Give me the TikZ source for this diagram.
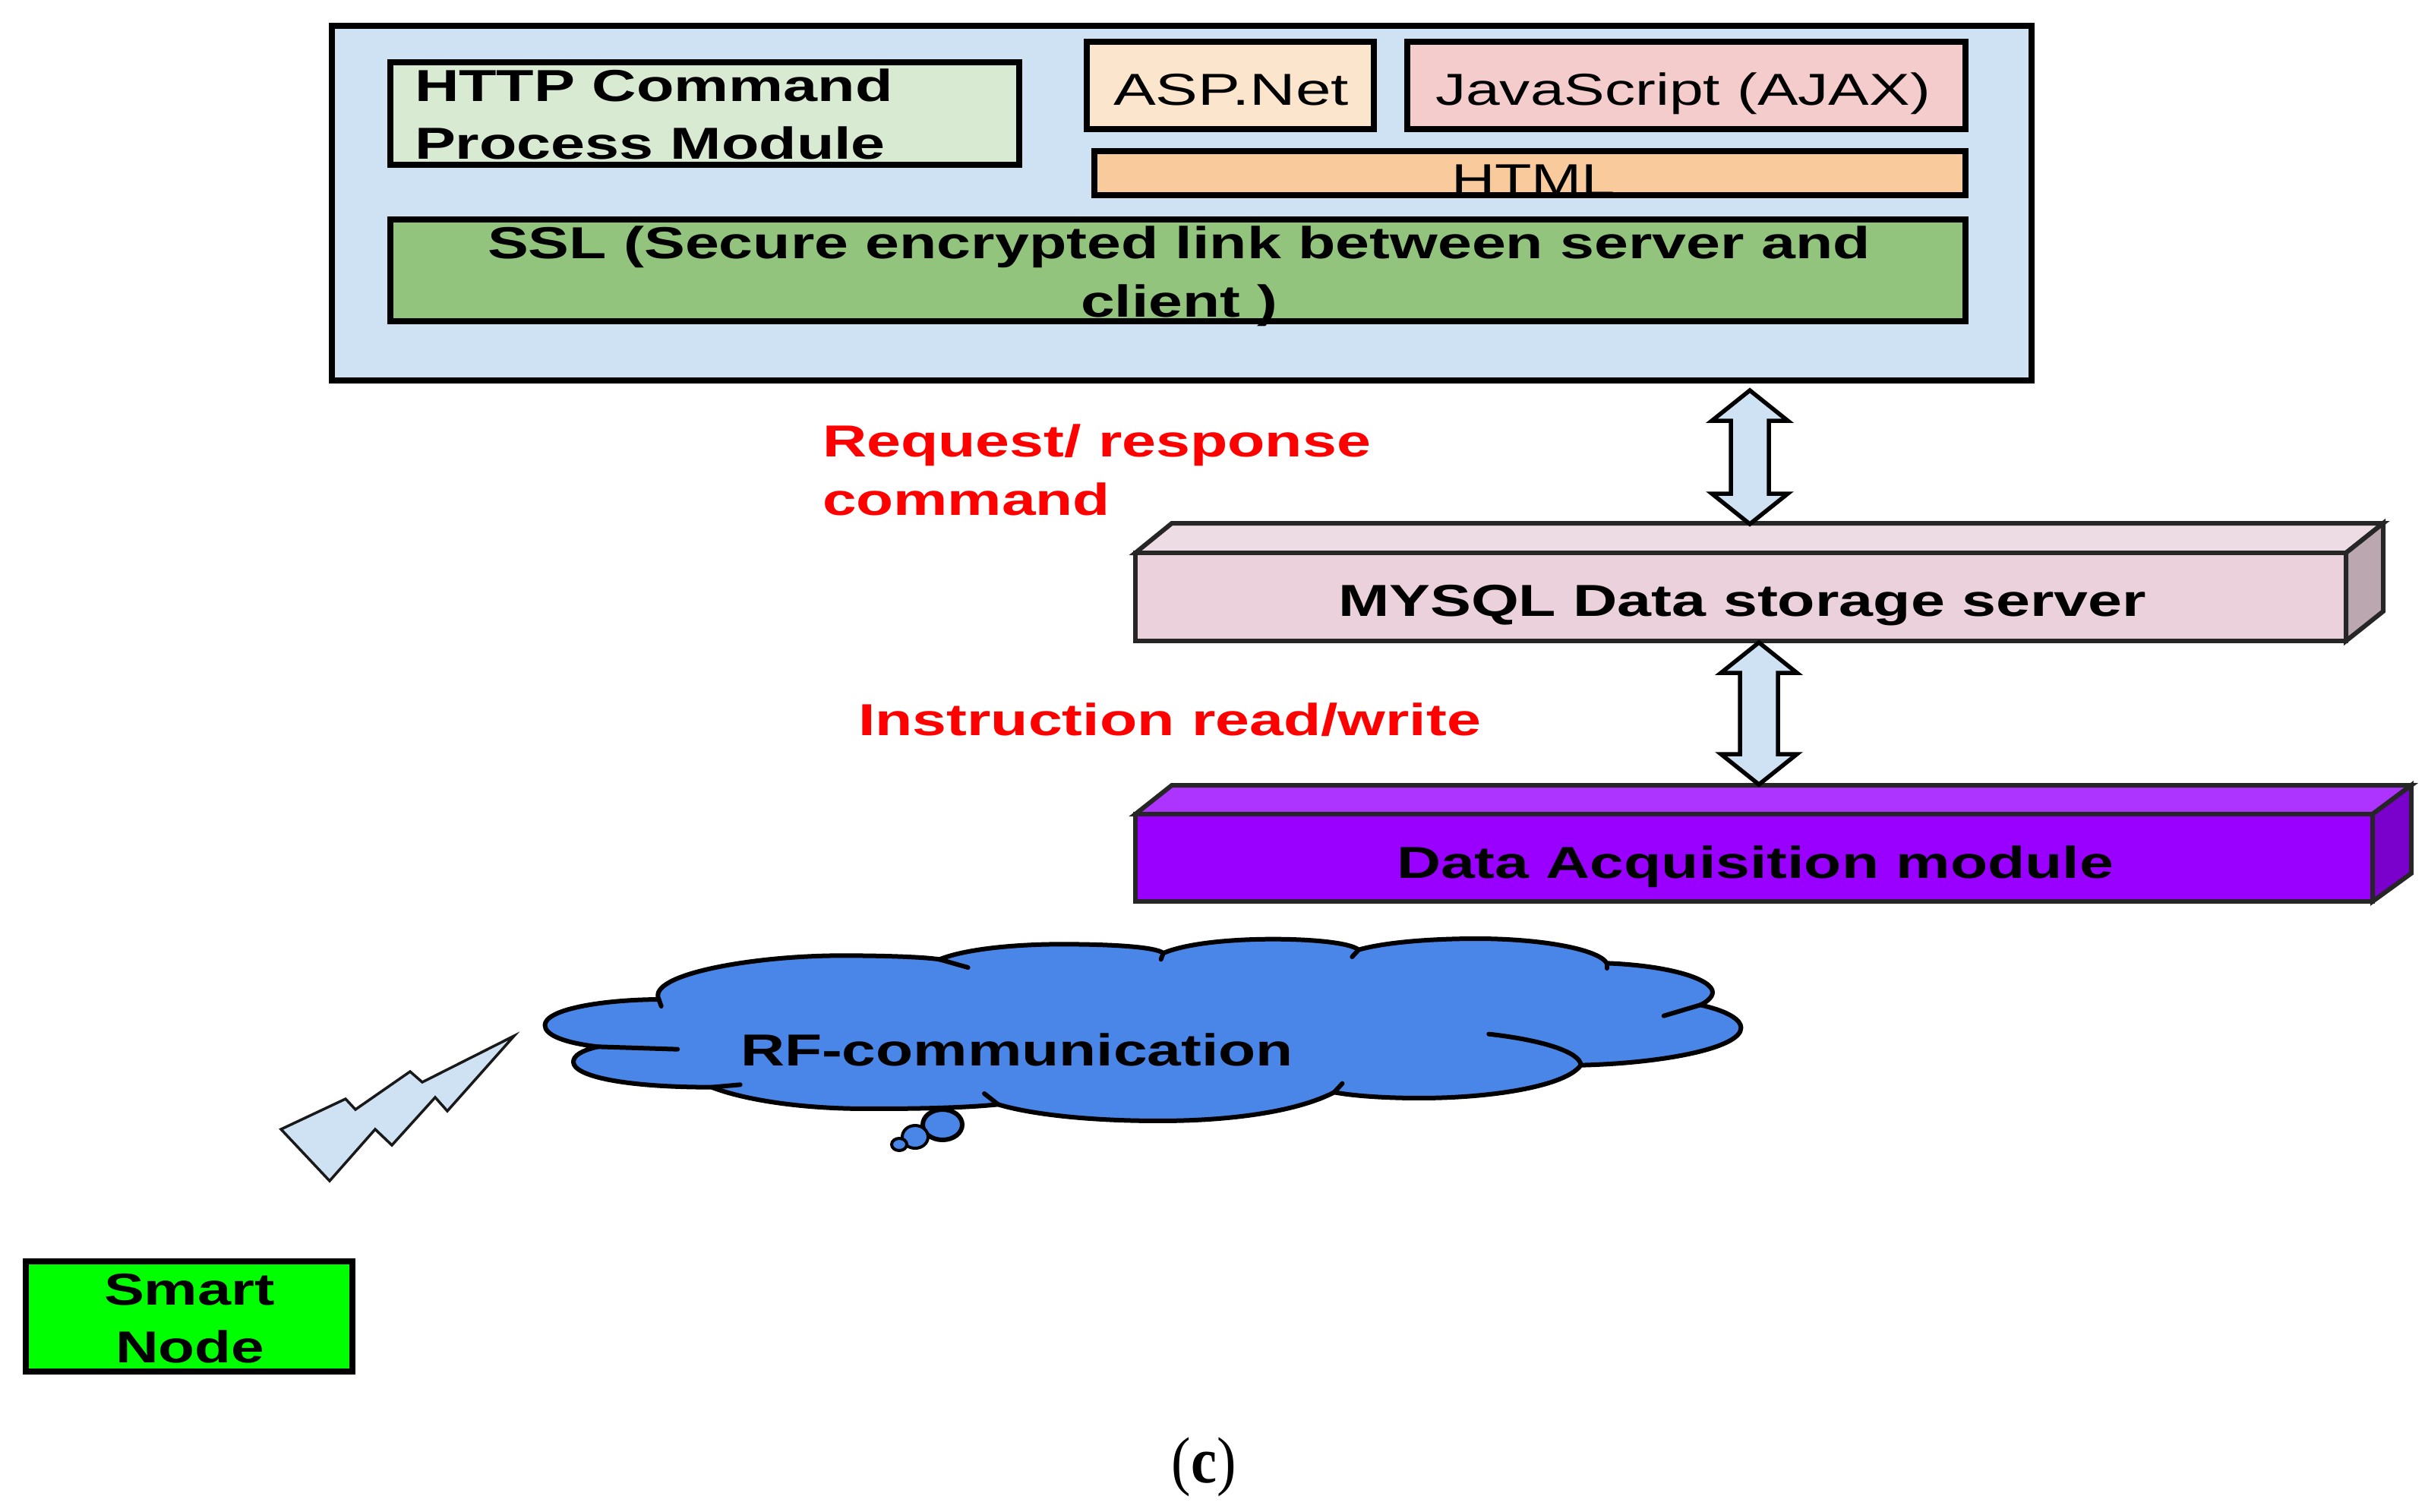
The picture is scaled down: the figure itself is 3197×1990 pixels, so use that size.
\documentclass[tikz,border=0pt]{standalone}
\usepackage{fontspec}
\usepackage{graphicx}
\usetikzlibrary{calc}
\setmainfont{Liberation Sans}
\newfontfamily\serifcap{Liberation Serif}
\definecolor{webblue}{HTML}{CFE2F3}
\definecolor{httpgreen}{HTML}{D9EAD3}
\definecolor{aspcol}{HTML}{FCE5CD}
\definecolor{jscol}{HTML}{F4CCCC}
\definecolor{htmlcol}{HTML}{F9CB9C}
\definecolor{sslcol}{HTML}{93C47D}
\definecolor{myfront}{HTML}{EAD1DC}
\definecolor{mytop}{HTML}{EEDCE4}
\definecolor{myside}{HTML}{BBA7B0}
\definecolor{acfront}{HTML}{9900FF}
\definecolor{actop}{HTML}{AD33FF}
\definecolor{acside}{HTML}{7A00CC}
\definecolor{cloudcol}{HTML}{4A86E8}
\newlength\fitlen
\newcommand{\fitw}[2]{\settowidth\fitlen{#2}\pgfmathsetmacro\fitr{#1/\fitlen}\scalebox{\fitr}[1]{#2}}
\newcommand{\blockarrow}[2]{%
  \filldraw[biarrow] (#1) -- ($(#1)+(50,40)$) -- ($(#1)+(25,40)$) -- ($(#2)+(25,-40)$)
   -- ($(#2)+(50,-40)$) -- (#2) -- ($(#2)+(-50,-40)$) -- ($(#2)+(-25,-40)$)
   -- ($(#1)+(-25,40)$) -- ($(#1)+(-50,40)$) -- cycle;}
\tikzset{
  box/.style={draw=black,line width=8pt,inner sep=0pt,outer sep=0pt,anchor=north west},
  lab/.style={anchor=base west,inner sep=0pt,outer sep=0pt,text=black,font=\fontsize{59}{59}\selectfont\bfseries},
  labr/.style={lab,font=\fontsize{59}{59}\selectfont},
  redlab/.style={lab,text=red},
  prism/.style={draw=black!85,line width=6pt,line join=miter},
  biarrow/.style={draw=black,fill=webblue,line width=5.5pt,line join=miter},
  cloudline/.style={draw=black,line width=6pt,line cap=round}
}
\begin{document}
\begin{tikzpicture}[x=1pt,y=-1pt]
\useasboundingbox (0,0) rectangle (3197,1990);
% web application block
\node[box,fill=webblue,minimum width=2238pt,minimum height=467pt] (web) at (437,34) {};
\node[box,fill=httpgreen,minimum width=828pt,minimum height=135pt] (http) at (514,82) {};
\node[box,fill=aspcol,minimum width=378pt,minimum height=115pt] (asp) at (1431,55) {};
\node[box,fill=jscol,minimum width=735pt,minimum height=115pt] (js) at (1853,55) {};
\node[box,fill=htmlcol,minimum width=1147pt,minimum height=58pt] (html) at (1441,199) {};
\node[box,fill=sslcol,minimum width=2074pt,minimum height=134pt] (ssl) at (514,289) {};
\node[lab] (t1) at (546,133) {\fitw{630}{HTTP Command}};
\node[lab] (t2) at (546,209) {\fitw{620}{Process Module}};
\node[labr] (t3) at (1466,138) {\fitw{310}{ASP.Net}};
\node[labr] (t4) at (1890,138) {\fitw{652}{JavaScript (AJAX)}};
\node[labr] (t5) at (1911,257) {\fitw{216}{HTML}};
\node[lab] (t6) at (642,340) {\fitw{1821}{SSL (Secure encrypted link between server and}};
\node[lab] (t7) at (1423,417) {\fitw{259}{client )}};
% storage prism
\filldraw[prism,fill=mytop] (1495,728) -- (1543,689) -- (3138,689) -- (3089,728) -- cycle;
\filldraw[prism,fill=myside] (3089,728) -- (3138,689) -- (3138,805) -- (3089,844) -- cycle;
\node[draw=black!85,line width=6pt,fill=myfront,inner sep=0pt,outer sep=0pt,anchor=north west,minimum width=1594pt,minimum height=116pt] (mysql) at (1495,728) {};
\node[lab] (t8) at (1762,811) {\fitw{1064}{MYSQL Data storage server}};
% acquisition prism
\filldraw[prism,fill=actop] (1495,1072) -- (1543,1034) -- (3175,1034) -- (3124,1072) -- cycle;
\filldraw[prism,fill=acside] (3124,1072) -- (3175,1034) -- (3175,1150) -- (3124,1187) -- cycle;
\node[draw=black!85,line width=6pt,fill=acfront,inner sep=0pt,outer sep=0pt,anchor=north west,minimum width=1629pt,minimum height=115pt] (daq) at (1495,1072) {};
\node[lab] (t9) at (1839,1156) {\fitw{944}{Data Acquisition module}};
% block arrows
\coordinate (a1t) at (2304,514);
\coordinate (a1b) at (2304,690);
\coordinate (a2t) at (2316,846);
\coordinate (a2b) at (2316,1033);
\blockarrow{a1t}{a1b}
\blockarrow{a2t}{a2b}
% red labels
\node[redlab] (r1) at (1083,601) {\fitw{722}{Request/ response}};
\node[redlab] (r2) at (1083,678) {\fitw{379}{command}};
\node[redlab] (r3) at (1130,968) {\fitw{820}{Instruction read/write}};
% cloud
\filldraw[cloudline,fill=cloudcol] (1241,1481) ellipse [x radius=26pt,y radius=20pt];
\filldraw[cloudline,fill=cloudcol,line width=4pt] (1205,1497) ellipse [x radius=17pt,y radius=15pt];
\filldraw[cloudline,fill=cloudcol,line width=4pt] (1184,1507) ellipse [x radius=10pt,y radius=8pt];
\begin{scope}[shift={(680,1210)},x=1.0714pt,y=-0.3333pt]
\filldraw[cloudline,fill=cloudcol,line join=round]
 (175,318) .. controls (160,220) and (290,145) .. (400,145)
 .. controls (450,145) and (500,150) .. (520,160)
 .. controls (555,115) and (620,100) .. (670,100)
 .. controls (730,100) and (785,110) .. (795,135)
 .. controls (825,95) and (880,80) .. (930,80)
 .. controls (980,80) and (1025,95) .. (1035,122)
 .. controls (1070,90) and (1130,78) .. (1180,78)
 .. controls (1260,78) and (1330,120) .. (1340,175)
 .. controls (1420,185) and (1470,240) .. (1470,290)
 .. controls (1470,310) and (1462,330) .. (1455,340)
 .. controls (1490,365) and (1505,400) .. (1505,430)
 .. controls (1505,510) and (1410,570) .. (1308,578)
 .. controls (1290,660) and (1200,708) .. (1110,708)
 .. controls (1070,708) and (1030,700) .. (1005,685)
 .. controls (960,760) and (880,798) .. (790,798)
 .. controls (700,798) and (630,770) .. (592,733)
 .. controls (540,750) and (470,750) .. (430,750)
 .. controls (350,750) and (280,715) .. (240,665)
 .. controls (130,665) and (70,620) .. (70,565)
 .. controls (70,540) and (80,520) .. (100,505)
 .. controls (60,490) and (35,460) .. (35,420)
 .. controls (35,360) and (100,320) .. (175,318) -- cycle;
\draw[cloudline] (520,160) -- (555,192);
\draw[cloudline] (175,318) -- (178,345);
\draw[cloudline] (795,135) -- (792,160);
\draw[cloudline] (1035,122) -- (1027,150);
\draw[cloudline] (1340,175) -- (1340,195);
\draw[cloudline] (1455,340) -- (1410,383);
\draw[cloudline] (1195,455) .. controls (1265,480) and (1308,530) .. (1308,578);
\draw[cloudline] (1015,650) -- (1005,685);
\draw[cloudline] (592,733) -- (575,690);
\draw[cloudline] (240,665) -- (275,655);
\draw[cloudline] (100,505) -- (198,515);
\end{scope}
\node[lab] (t10) at (975,1403) {\fitw{728}{RF-communication}};
% lightning bolt
\filldraw[draw=black!90,line width=3.5pt,fill=webblue,line join=miter]
 (677,1364) -- (589,1463) -- (573,1445) -- (516,1508) -- (494,1487) -- (434,1555)
 -- (370,1487) -- (455,1447) -- (468,1461) -- (540,1411) -- (556,1425) -- cycle;
% smart node
\node[box,fill=green,minimum width=430pt,minimum height=145pt] (smart) at (34,1661) {};
\node[lab] (t11) at (137,1718) {\fitw{225}{Smart}};
\node[lab] (t12) at (152,1794) {\fitw{196}{Node}};
% caption
\node[anchor=base,inner sep=0pt,font=\fontsize{86}{86}\selectfont\serifcap] (cap) at (1585,1952) {\fitw{85}{(\textbf{c})}};
\end{tikzpicture}
\end{document}
